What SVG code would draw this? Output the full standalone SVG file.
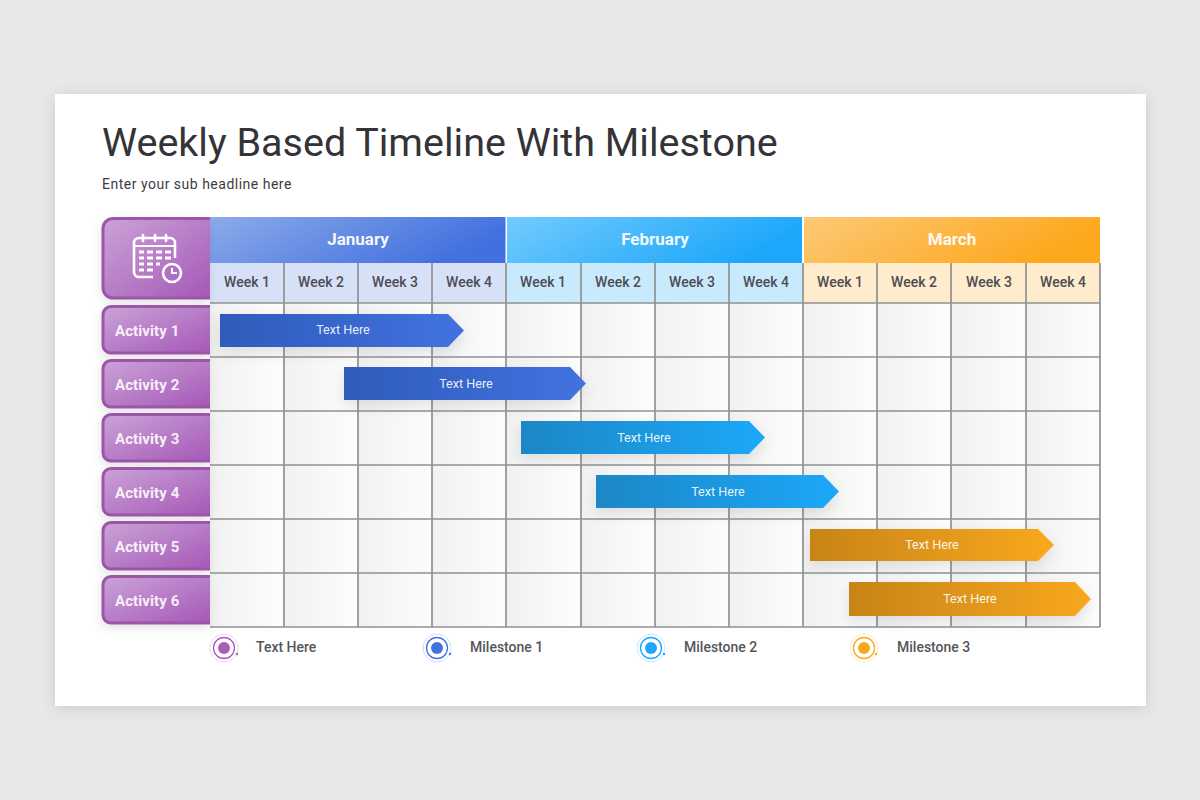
<svg xmlns="http://www.w3.org/2000/svg" width="1200" height="800" viewBox="0 0 1200 800">
<style>
text{font-family:Roboto,"Liberation Sans",sans-serif}
.wk{font-size:14px;font-weight:500;fill:#4d4d55;text-anchor:middle}
.mo{font-size:17px;font-weight:700;fill:#fff;text-anchor:middle;fill-opacity:.95}
.act{font-size:15px;font-weight:700;fill:#fff;fill-opacity:.9;letter-spacing:.1px}
.bt{font-size:12.6px;fill:#fff;text-anchor:middle;fill-opacity:.9}
.leg{font-size:14px;font-weight:500;fill:#55555c}
.gl{stroke:#919191;stroke-width:1.700;fill:none}
.lab{fill:url(#pur);stroke:#9c56a8;stroke-width:3}
.ic{fill:none;stroke:#fff;stroke-width:2.600}
</style>
<defs>
<linearGradient id="pur" x1="0" y1="0" x2="1" y2="1"><stop offset="0" stop-color="#cba3d8"/><stop offset="1" stop-color="#a558b6"/></linearGradient>
<linearGradient id="m1" x1="0" y1="0" x2="1" y2="0.3"><stop offset="0" stop-color="#8cabea"/><stop offset="1" stop-color="#4270de"/></linearGradient>
<linearGradient id="m2" x1="0" y1="0" x2="1" y2="0.3"><stop offset="0" stop-color="#73cbfd"/><stop offset="1" stop-color="#1ca7fa"/></linearGradient>
<linearGradient id="m3" x1="0" y1="0" x2="1" y2="0.3"><stop offset="0" stop-color="#fcca78"/><stop offset="1" stop-color="#fda71c"/></linearGradient>
<linearGradient id="b1" x1="0" y1="0" x2="1" y2="0"><stop offset="0" stop-color="#2f5bbb"/><stop offset="1" stop-color="#4272e0"/></linearGradient>
<linearGradient id="b2" x1="0" y1="0" x2="1" y2="0"><stop offset="0" stop-color="#1a87c6"/><stop offset="1" stop-color="#1ca8f8"/></linearGradient>
<linearGradient id="b3" x1="0" y1="0" x2="1" y2="0"><stop offset="0" stop-color="#c78418"/><stop offset="1" stop-color="#f9a81e"/></linearGradient>
<linearGradient id="cell" x1="0" y1="0" x2="1" y2="0"><stop offset="0" stop-color="#f1f1f1"/><stop offset="1" stop-color="#fdfdfd"/></linearGradient>
<pattern id="cells" x="210" y="303" width="74.170" height="54" patternUnits="userSpaceOnUse"><rect width="74.170" height="54" fill="url(#cell)"/></pattern>
<filter id="card" x="-5%" y="-5%" width="110%" height="110%"><feDropShadow dx="0" dy="2" stdDeviation="7" flood-color="#000" flood-opacity=".13"/></filter>
<filter id="soft" x="-10%" y="-40%" width="120%" height="190%"><feDropShadow dx="0" dy="6" stdDeviation="7" flood-color="#000" flood-opacity=".1"/></filter>
<filter id="labs" x="-15%" y="-20%" width="130%" height="150%"><feDropShadow dx="-1" dy="4" stdDeviation="5" flood-color="#000" flood-opacity=".1"/></filter>
</defs>
<rect width="1200" height="800" fill="#e9e7e8"/>
<rect x="55" y="94" width="1091" height="612" fill="#fff" filter="url(#card)"/>
<text id="title" x="102" y="156" font-size="39.5" fill="#333338">Weekly Based Timeline With Milestone</text>
<text id="subtitle" x="102" y="189" font-size="14" fill="#3c3c42" style="letter-spacing:.5px">Enter your sub headline here</text>

<g id="grid">
<rect x="210" y="303" width="890" height="324" fill="url(#cells)"/>
<rect x="210" y="263" width="296.500" height="40" fill="#d6e0f6"/>
<rect x="506.500" y="263" width="296.500" height="40" fill="#c9eafd"/>
<rect x="803" y="263" width="297" height="40" fill="#feeccd"/>
<path class="gl" d="M284 263V627M358 263V627M432 263V627M506 263V627M581 263V627M655 263V627M729 263V627M803 263V627M877 263V627M951 263V627M1026 263V627M1100 263V627"/>
<path class="gl" d="M210 303H1100M210 357H1100M210 411H1100M210 465H1100M210 519H1100M210 573H1100M210 627H1100"/>
</g>

<g id="months">
<rect x="210" y="217" width="295.500" height="46" fill="url(#m1)"/>
<rect x="507" y="217" width="295" height="46" fill="url(#m2)"/>
<rect x="804" y="217" width="296" height="46" fill="url(#m3)"/>
<text class="mo" x="358" y="245">January</text>
<text class="mo" x="655" y="245">February</text>
<text class="mo" x="952" y="245">March</text>
</g>
<g id="weeks">
<text class="wk" x="247" y="287">Week 1</text><text class="wk" x="321" y="287">Week 2</text><text class="wk" x="395" y="287">Week 3</text><text class="wk" x="469" y="287">Week 4</text>
<text class="wk" x="543" y="287">Week 1</text><text class="wk" x="618" y="287">Week 2</text><text class="wk" x="692" y="287">Week 3</text><text class="wk" x="766" y="287">Week 4</text>
<text class="wk" x="840" y="287">Week 1</text><text class="wk" x="914" y="287">Week 2</text><text class="wk" x="989" y="287">Week 3</text><text class="wk" x="1063" y="287">Week 4</text>
</g>

<g id="calendar-node">
<path class="lab" filter="url(#labs)" d="M210 218.500H113a10 10 0 0 0-10 10V288a10 10 0 0 0 10 10H210"/>
<g class="ic">
<path d="M153 277H139a5 5 0 0 1-5-5V243a5 5 0 0 1 5-5H170a5 5 0 0 1 5 5V258"/>
<path d="M134 246H175" stroke-width="2.200"/>
<path d="M143 235V241M155 235V241M166 235V241" stroke-linecap="round"/>
<circle cx="172" cy="273" r="9"/>
<path d="M172 268V273H177" stroke-width="2"/>
<path d="M139 252h5M147 252h6M156 252h6M165 252h6M139 258h5M147 258h6M156 258h6M165 258h6M139 264h5M147 264h6M156 264h4M139 270h5M147 270h6" stroke-width="3"/>
</g>
</g>

<g id="activity-1"><path class="lab" filter="url(#labs)" d="M210 306.500H111a8 8 0 0 0-8 8V345a8 8 0 0 0 8 8H210"/><text class="act" x="115" y="336">Activity 1</text></g>
<g id="activity-2"><path class="lab" filter="url(#labs)" d="M210 360.500H111a8 8 0 0 0-8 8V399a8 8 0 0 0 8 8H210"/><text class="act" x="115" y="390">Activity 2</text></g>
<g id="activity-3"><path class="lab" filter="url(#labs)" d="M210 414.500H111a8 8 0 0 0-8 8V453a8 8 0 0 0 8 8H210"/><text class="act" x="115" y="444">Activity 3</text></g>
<g id="activity-4"><path class="lab" filter="url(#labs)" d="M210 468.500H111a8 8 0 0 0-8 8V507a8 8 0 0 0 8 8H210"/><text class="act" x="115" y="498">Activity 4</text></g>
<g id="activity-5"><path class="lab" filter="url(#labs)" d="M210 522.500H111a8 8 0 0 0-8 8V561a8 8 0 0 0 8 8H210"/><text class="act" x="115" y="552">Activity 5</text></g>
<g id="activity-6"><path class="lab" filter="url(#labs)" d="M210 576.500H111a8 8 0 0 0-8 8V615a8 8 0 0 0 8 8H210"/><text class="act" x="115" y="606">Activity 6</text></g>

<g id="bar-1"><polygon points="220,314 448,314 464,330.500 448,347 220,347" fill="url(#b1)" filter="url(#soft)"/><text class="bt" x="343" y="334">Text Here</text></g>
<g id="bar-2"><polygon points="344,367 570,367 586,383.500 570,400 344,400" fill="url(#b1)" filter="url(#soft)"/><text class="bt" x="466" y="388">Text Here</text></g>
<g id="bar-3"><polygon points="521,421 749,421 765,437.500 749,454 521,454" fill="url(#b2)" filter="url(#soft)"/><text class="bt" x="644" y="442">Text Here</text></g>
<g id="bar-4"><polygon points="596,475 823,475 839,491.500 823,508 596,508" fill="url(#b2)" filter="url(#soft)"/><text class="bt" x="718" y="496">Text Here</text></g>
<g id="bar-5"><polygon points="810,529 1038,529 1054,545 1038,561 810,561" fill="url(#b3)" filter="url(#soft)"/><text class="bt" x="932" y="549">Text Here</text></g>
<g id="bar-6"><polygon points="849,582 1075,582 1091,599 1075,616 849,616" fill="url(#b3)" filter="url(#soft)"/><text class="bt" x="970" y="603">Text Here</text></g>

<g id="legend-text">
<circle cx="224" cy="648" r="14" fill="#fff" stroke="#a95fb8" stroke-opacity=".25"/><circle cx="224" cy="648" r="10.500" fill="none" stroke="#a95fb8" stroke-width="1.300"/><circle cx="224" cy="648" r="6" fill="#a95fb8"/><circle cx="237" cy="654" r="1.200" fill="#a95fb8"/>
<text class="leg" x="256" y="652">Text Here</text></g>
<g id="legend-milestone-1">
<circle cx="437" cy="648" r="14" fill="#fff" stroke="#4272e0" stroke-opacity=".25"/><circle cx="437" cy="648" r="10.500" fill="none" stroke="#4272e0" stroke-width="1.300"/><circle cx="437" cy="648" r="6" fill="#4272e0"/><circle cx="450" cy="654" r="1.200" fill="#4272e0"/>
<text class="leg" x="470" y="652">Milestone 1</text></g>
<g id="legend-milestone-2">
<circle cx="651" cy="648" r="14" fill="#fff" stroke="#1ca7fa" stroke-opacity=".25"/><circle cx="651" cy="648" r="10.500" fill="none" stroke="#1ca7fa" stroke-width="1.300"/><circle cx="651" cy="648" r="6" fill="#1ca7fa"/><circle cx="664" cy="654" r="1.200" fill="#1ca7fa"/>
<text class="leg" x="684" y="652">Milestone 2</text></g>
<g id="legend-milestone-3">
<circle cx="864" cy="648" r="14" fill="#fff" stroke="#f9a81e" stroke-opacity=".25"/><circle cx="864" cy="648" r="10.500" fill="none" stroke="#f9a81e" stroke-width="1.300"/><circle cx="864" cy="648" r="6" fill="#f9a81e"/><circle cx="876" cy="654" r="1.200" fill="#f9a81e"/>
<text class="leg" x="897" y="652">Milestone 3</text></g>
</svg>
